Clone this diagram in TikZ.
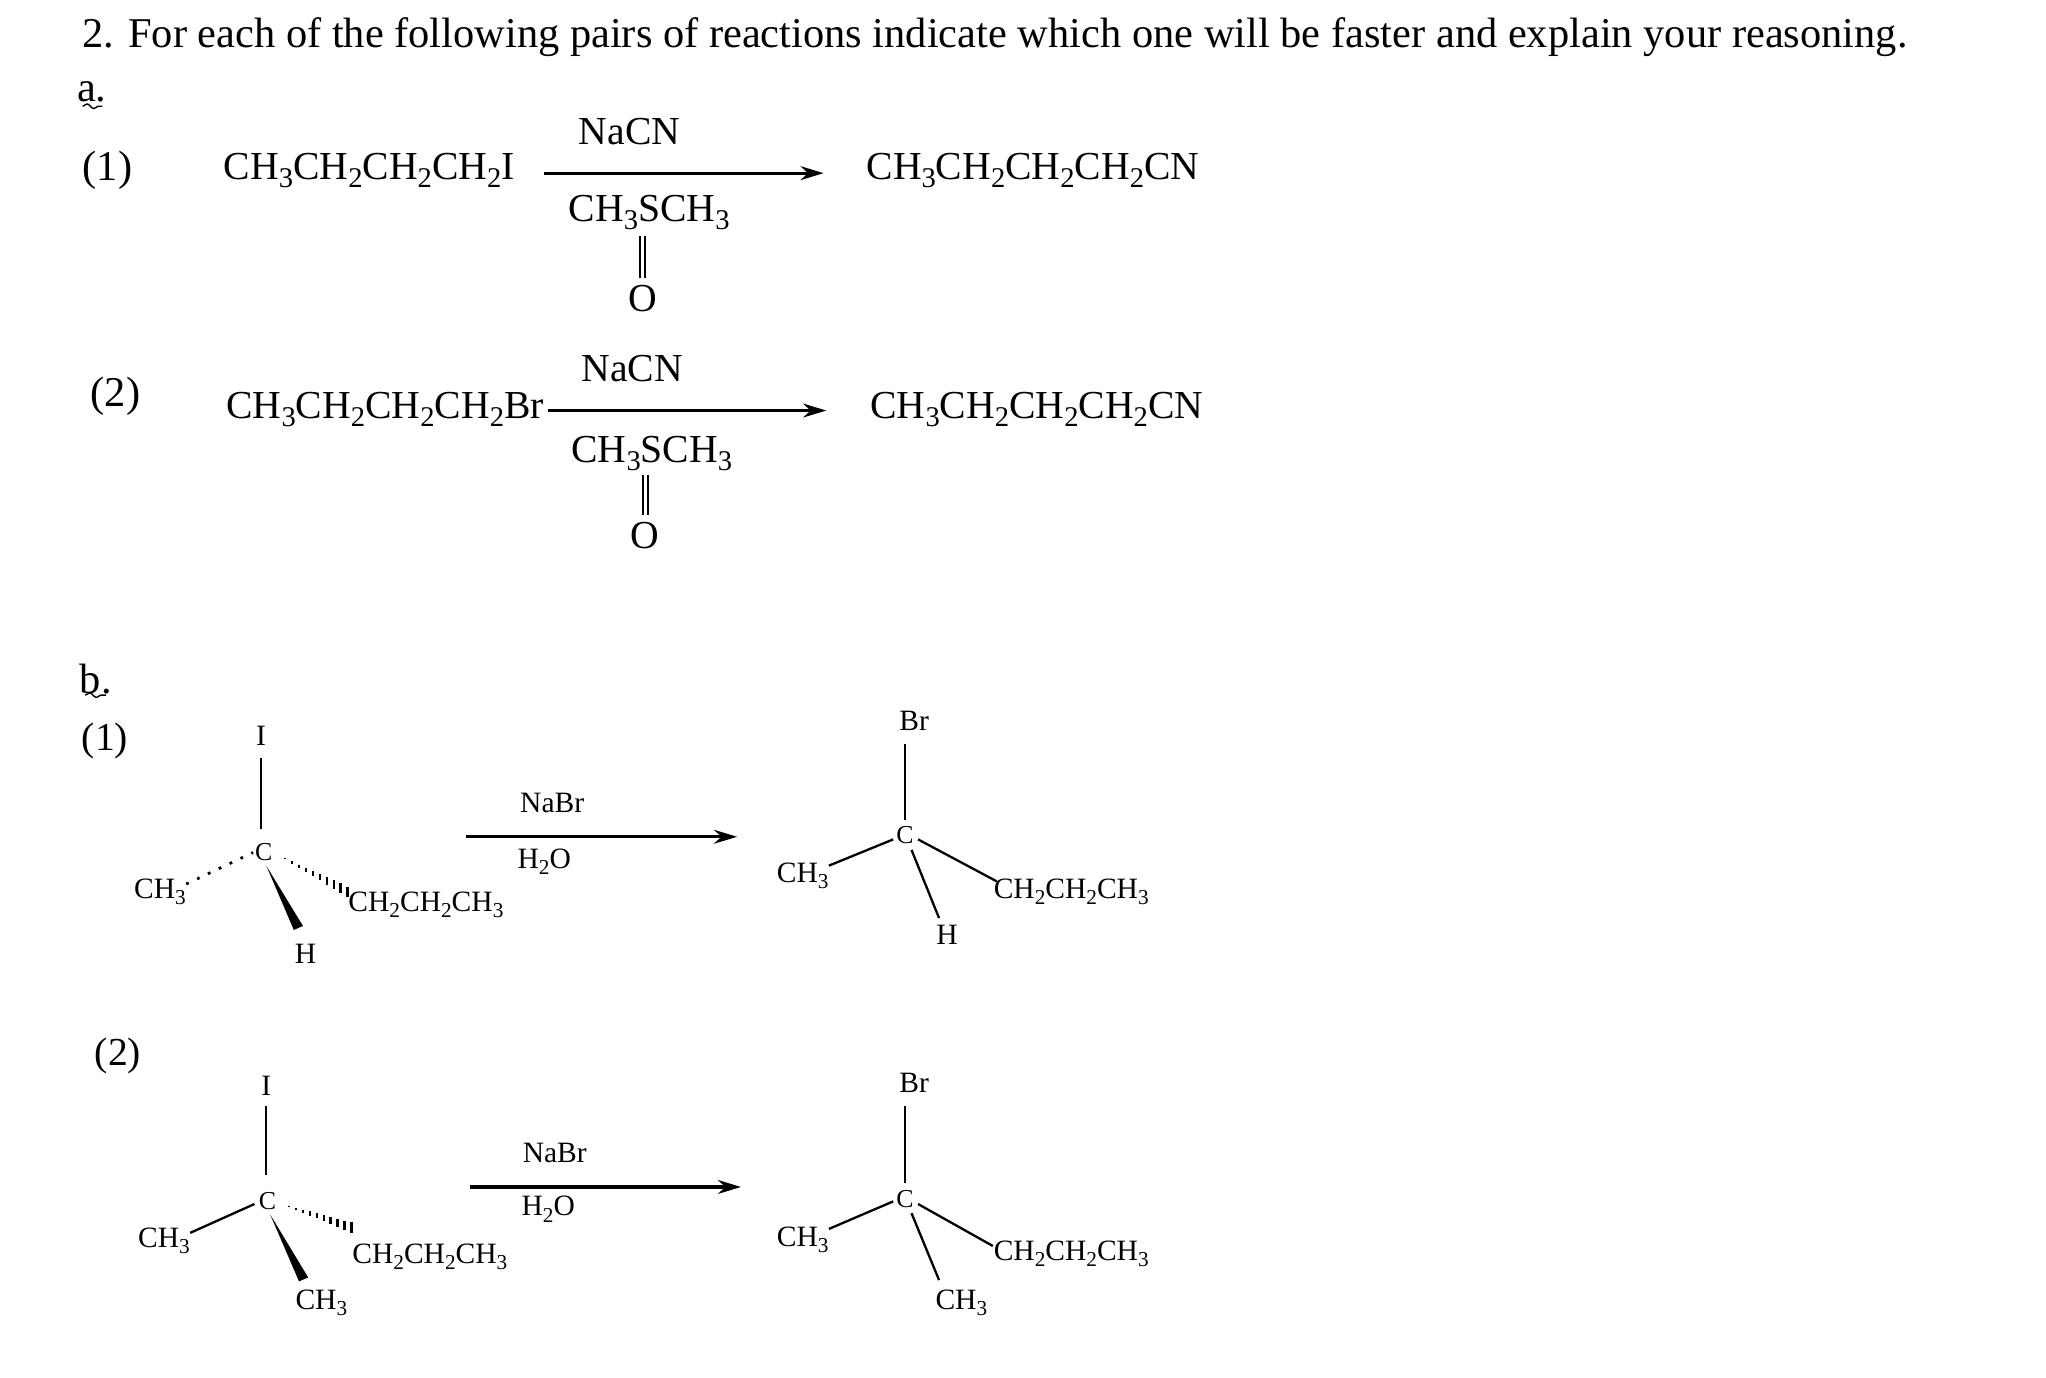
\documentclass[tikz,border=0pt]{standalone}
\usepackage{fontspec}
\setmainfont{Liberation Serif}
\usetikzlibrary{arrows.meta,decorations.pathmorphing,calc}
\newcommand{\sbs}[1]{\raisebox{-0.45ex}{\scalebox{0.72}{#1}}}
\begin{document}
\begin{tikzpicture}[x=0.01cm,y=-0.01cm,
  big/.style={font=\fontsize{9.2}{11}\selectfont,inner sep=0pt},
  frm/.style={font=\fontsize{8.6}{10}\selectfont,inner sep=0pt},
  sm/.style={font=\fontsize{6.4}{8}\selectfont,inner sep=0pt},
  tiny/.style={font=\fontsize{5.6}{7}\selectfont,inner sep=0pt},
  rarrow/.style={line width=0.7pt,-{Stealth[length=5pt,width=3pt]}},
  bond/.style={line width=0.5pt},
  wavy/.style={line width=0.3pt,decorate,decoration={snake,amplitude=0.5,segment length=3}}]
\useasboundingbox[fill=white] (0,0) rectangle (1560,1050);
\node[big,anchor=west] (title) at (62,28) {2. For each of the following pairs of reactions indicate which one will be faster and explain your reasoning.};
\node[big] (a) at (70,70) {a.};
\draw[wavy] (63,81) -- (78,81);
% a1
\node[big] (a1) at (82,130) {(1)};
\node[frm,anchor=west] (r1) at (170,130) {CH\sbs{3}CH\sbs{2}CH\sbs{2}CH\sbs{2}I};
\coordinate (a1s) at (415,132); \coordinate (a1e) at (628,132);
\draw[rarrow] (a1s) -- (a1e);
\node[frm] (n1) at (480,100) {NaCN};
\node[frm] (d1) at (495,162) {CH\sbs{3}SCH\sbs{3}};
\node[frm] (o1) at (490,228) {O};
\draw[bond] (488,180) -- (488,212) (492,180) -- (492,212);
\node[frm,anchor=west] (p1) at (660,130) {CH\sbs{3}CH\sbs{2}CH\sbs{2}CH\sbs{2}CN};
% a2
\node[big] (a2) at (88,302) {(2)};
\node[frm,anchor=west] (r2) at (172,312) {CH\sbs{3}CH\sbs{2}CH\sbs{2}CH\sbs{2}Br};
\coordinate (a2s) at (418,313); \coordinate (a2e) at (630,313);
\draw[rarrow] (a2s) -- (a2e);
\node[frm] (n2) at (482,281) {NaCN};
\node[frm] (d2) at (497,346) {CH\sbs{3}SCH\sbs{3}};
\node[frm] (o2) at (492,408) {O};
\draw[bond] (490,362) -- (490,393) (494,362) -- (494,393);
\node[frm,anchor=west] (p2) at (663,312) {CH\sbs{3}CH\sbs{2}CH\sbs{2}CH\sbs{2}CN};
% b
\node[big] (b) at (73,518) {b.};
\draw[wavy] (65,530) -- (81,530);
% b1
\node[frm] (b1) at (80,565) {(1)};
\node[sm] (i1) at (199,561) {I};
\node[tiny] (c1) at (201,650) {C};
\draw[bond] (199,578) -- (199,632);
\node[sm] (m1) at (122,680) {CH\sbs{3}};
\draw[line width=0.6pt,dotted] (142,674) -- (193,650);
\foreach \t in {0.1,0.2,...,1.0}{
  \draw[line width=0.5pt] ($(212,652)!\t!(265,680)+(0,-\t*4)$) -- ($(212,652)!\t!(265,680)+(0,\t*4)$);}
\node[sm,anchor=west] (e1) at (265,690) {CH\sbs{2}CH\sbs{2}CH\sbs{3}};
\fill (203,660) -- (231,706) -- (224,709) -- cycle;
\node[sm] (h1) at (233,727) {H};
\coordinate (b1s) at (355,638); \coordinate (b1e) at (562,638);
\draw[rarrow] (b1s) -- (b1e);
\node[sm] (nb1) at (421,612) {NaBr};
\node[sm] (w1) at (415,657) {H\sbs{2}O};
\node[sm] (br1) at (697,550) {Br};
\draw[bond] (690,567) -- (690,625);
\node[tiny] (pc1) at (690,637) {C};
\node[sm] (pm1) at (612,668) {CH\sbs{3}};
\draw[bond] (632,660) -- (681,640);
\draw[bond] (700,640) -- (760,672);
\node[sm,anchor=west] (pe1) at (757,680) {CH\sbs{2}CH\sbs{2}CH\sbs{3}};
\draw[bond] (695,648) -- (716,700);
\node[sm] (ph1) at (722,713) {H};
% b2
\node[frm] (b2) at (90,805) {(2)};
\node[sm] (i2) at (203,828) {I};
\draw[bond] (203,843) -- (203,896);
\node[tiny] (c2) at (204,916) {C};
\node[sm] (m2) at (125,946) {CH\sbs{3}};
\draw[bond] (145,940) -- (194,918);
\foreach \t in {0.1,0.2,...,1.0}{
  \draw[line width=0.5pt] ($(215,918)!\t!(268,936)+(0,-\t*4)$) -- ($(215,918)!\t!(268,936)+(0,\t*4)$);}
\node[sm,anchor=west] (e2) at (268,958) {CH\sbs{2}CH\sbs{2}CH\sbs{3}};
\fill (206,926) -- (235,974) -- (228,977) -- cycle;
\node[sm] (h2) at (245,993) {CH\sbs{3}};
\coordinate (b2s) at (358,905); \coordinate (b2e) at (565,905);
\draw[rarrow] (b2s) -- (b2e);
\node[sm] (nb2) at (423,879) {NaBr};
\node[sm] (w2) at (418,922) {H\sbs{2}O};
\node[sm] (br2) at (697,826) {Br};
\draw[bond] (690,843) -- (690,902);
\node[tiny] (pc2) at (690,914) {C};
\node[sm] (pm2) at (612,945) {CH\sbs{3}};
\draw[bond] (632,937) -- (681,916);
\draw[bond] (700,918) -- (757,950);
\node[sm,anchor=west] (pe2) at (757,956) {CH\sbs{2}CH\sbs{2}CH\sbs{3}};
\draw[bond] (695,925) -- (716,976);
\node[sm] (ph2) at (733,993) {CH\sbs{3}};
\end{tikzpicture}
\end{document}
